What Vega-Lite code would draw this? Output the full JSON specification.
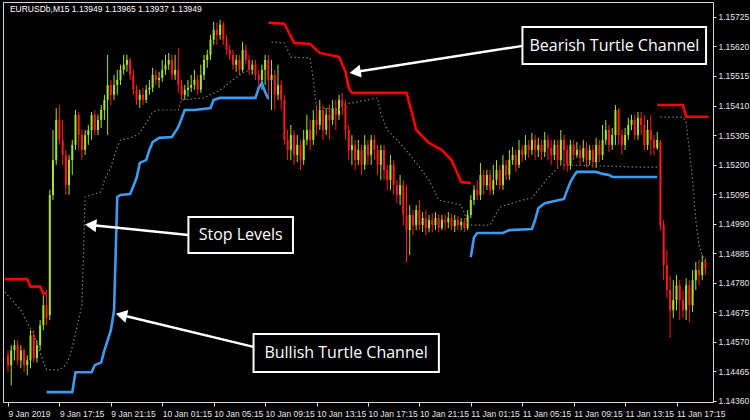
{
"$schema":"https://vega.github.io/schema/vega-lite/v6.json",
"width":710,"height":400,
"autosize":{"type":"none"},
"padding":{"left":3,"top":2,"right":37,"bottom":18},
"background":"#000000",
"config":{"view":{"stroke":"#d8d8d8","strokeWidth":1},"font":"Liberation Sans","axis":{"labelOverlap":false,"labelSeparation":0,"labelFlush":false,"labelBound":false}},
"datasets":{
"candles":[
{"t":"2019-01-09T13:15:00Z","o":1.14522,"h":1.1454,"l":1.14462,"c":1.14487},
{"t":"2019-01-09T13:30:00Z","o":1.14487,"h":1.14558,"l":1.14415,"c":1.1454},
{"t":"2019-01-09T13:45:00Z","o":1.1454,"h":1.14576,"l":1.14504,"c":1.14558},
{"t":"2019-01-09T14:00:00Z","o":1.14558,"h":1.14576,"l":1.14487,"c":1.14504},
{"t":"2019-01-09T14:15:00Z","o":1.14504,"h":1.14558,"l":1.14476,"c":1.1454},
{"t":"2019-01-09T14:30:00Z","o":1.1454,"h":1.14547,"l":1.14462,"c":1.14487},
{"t":"2019-01-09T14:45:00Z","o":1.14487,"h":1.14522,"l":1.14451,"c":1.14504},
{"t":"2019-01-09T15:00:00Z","o":1.14504,"h":1.14611,"l":1.14476,"c":1.14593},
{"t":"2019-01-09T15:15:00Z","o":1.14593,"h":1.14611,"l":1.14497,"c":1.14512},
{"t":"2019-01-09T15:30:00Z","o":1.14512,"h":1.14576,"l":1.14497,"c":1.14558},
{"t":"2019-01-09T15:45:00Z","o":1.14558,"h":1.14647,"l":1.1454,"c":1.14629},
{"t":"2019-01-09T16:00:00Z","o":1.14629,"h":1.14736,"l":1.14611,"c":1.147},
{"t":"2019-01-09T16:15:00Z","o":1.147,"h":1.14754,"l":1.14629,"c":1.14654},
{"t":"2019-01-09T16:30:00Z","o":1.14665,"h":1.1511,"l":1.14647,"c":1.15092},
{"t":"2019-01-09T16:45:00Z","o":1.15092,"h":1.15323,"l":1.15074,"c":1.15216},
{"t":"2019-01-09T17:00:00Z","o":1.15216,"h":1.15401,"l":1.15199,"c":1.15359},
{"t":"2019-01-09T17:15:00Z","o":1.15359,"h":1.15412,"l":1.1527,"c":1.15288},
{"t":"2019-01-09T17:30:00Z","o":1.15288,"h":1.15359,"l":1.15199,"c":1.15234},
{"t":"2019-01-09T17:45:00Z","o":1.15234,"h":1.15252,"l":1.15092,"c":1.15127},
{"t":"2019-01-09T18:00:00Z","o":1.15127,"h":1.15234,"l":1.15092,"c":1.15216},
{"t":"2019-01-09T18:15:00Z","o":1.15216,"h":1.15288,"l":1.15163,"c":1.1527},
{"t":"2019-01-09T18:30:00Z","o":1.1527,"h":1.15394,"l":1.15252,"c":1.15377},
{"t":"2019-01-09T18:45:00Z","o":1.15377,"h":1.15387,"l":1.15252,"c":1.15305},
{"t":"2019-01-09T19:00:00Z","o":1.15305,"h":1.15323,"l":1.15216,"c":1.15252},
{"t":"2019-01-09T19:15:00Z","o":1.15252,"h":1.15323,"l":1.15234,"c":1.15305},
{"t":"2019-01-09T19:30:00Z","o":1.15305,"h":1.15341,"l":1.1527,"c":1.15323},
{"t":"2019-01-09T19:45:00Z","o":1.15323,"h":1.15387,"l":1.15288,"c":1.15377},
{"t":"2019-01-09T20:00:00Z","o":1.15377,"h":1.15394,"l":1.15305,"c":1.15323},
{"t":"2019-01-09T20:15:00Z","o":1.15323,"h":1.15377,"l":1.15305,"c":1.15359},
{"t":"2019-01-09T20:30:00Z","o":1.15359,"h":1.15412,"l":1.1533,"c":1.15394},
{"t":"2019-01-09T20:45:00Z","o":1.15394,"h":1.15448,"l":1.15359,"c":1.1543},
{"t":"2019-01-09T21:00:00Z","o":1.1543,"h":1.1559,"l":1.15305,"c":1.15483},
{"t":"2019-01-09T21:15:00Z","o":1.15483,"h":1.15501,"l":1.15412,"c":1.15448},
{"t":"2019-01-09T21:30:00Z","o":1.15448,"h":1.15519,"l":1.1543,"c":1.15483},
{"t":"2019-01-09T21:45:00Z","o":1.15483,"h":1.15537,"l":1.15448,"c":1.15501},
{"t":"2019-01-09T22:00:00Z","o":1.15501,"h":1.15555,"l":1.15483,"c":1.15537},
{"t":"2019-01-09T22:15:00Z","o":1.15537,"h":1.1559,"l":1.15519,"c":1.15555},
{"t":"2019-01-09T22:30:00Z","o":1.15555,"h":1.1559,"l":1.1553,"c":1.15572},
{"t":"2019-01-09T22:45:00Z","o":1.15572,"h":1.1558,"l":1.15501,"c":1.15519},
{"t":"2019-01-09T23:00:00Z","o":1.15519,"h":1.15537,"l":1.15448,"c":1.15466},
{"t":"2019-01-09T23:15:00Z","o":1.15466,"h":1.15483,"l":1.15412,"c":1.1543},
{"t":"2019-01-09T23:30:00Z","o":1.1543,"h":1.15466,"l":1.15401,"c":1.15448},
{"t":"2019-01-09T23:45:00Z","o":1.15448,"h":1.15473,"l":1.15412,"c":1.1543},
{"t":"2019-01-10T00:00:00Z","o":1.1543,"h":1.15483,"l":1.15419,"c":1.15466},
{"t":"2019-01-10T00:15:00Z","o":1.15466,"h":1.15501,"l":1.15448,"c":1.15473},
{"t":"2019-01-10T00:30:00Z","o":1.15473,"h":1.15544,"l":1.15458,"c":1.15519},
{"t":"2019-01-10T00:45:00Z","o":1.15519,"h":1.15537,"l":1.15483,"c":1.15501},
{"t":"2019-01-10T01:00:00Z","o":1.15501,"h":1.1553,"l":1.15473,"c":1.15508},
{"t":"2019-01-10T01:15:00Z","o":1.15508,"h":1.15572,"l":1.15494,"c":1.15537},
{"t":"2019-01-10T01:30:00Z","o":1.15537,"h":1.1559,"l":1.15519,"c":1.15555},
{"t":"2019-01-10T01:45:00Z","o":1.15555,"h":1.15597,"l":1.15537,"c":1.15572},
{"t":"2019-01-10T02:00:00Z","o":1.15572,"h":1.1559,"l":1.15501,"c":1.15519},
{"t":"2019-01-10T02:15:00Z","o":1.15519,"h":1.1559,"l":1.15501,"c":1.15537},
{"t":"2019-01-10T02:30:00Z","o":1.15537,"h":1.15615,"l":1.15455,"c":1.15483},
{"t":"2019-01-10T02:45:00Z","o":1.15483,"h":1.15501,"l":1.1543,"c":1.15448},
{"t":"2019-01-10T03:00:00Z","o":1.15448,"h":1.15483,"l":1.1543,"c":1.15466},
{"t":"2019-01-10T03:15:00Z","o":1.15466,"h":1.15501,"l":1.15441,"c":1.15473},
{"t":"2019-01-10T03:30:00Z","o":1.15473,"h":1.15519,"l":1.15458,"c":1.15483},
{"t":"2019-01-10T03:45:00Z","o":1.15483,"h":1.15537,"l":1.15466,"c":1.15501},
{"t":"2019-01-10T04:00:00Z","o":1.15501,"h":1.15519,"l":1.15448,"c":1.15466},
{"t":"2019-01-10T04:15:00Z","o":1.15466,"h":1.15555,"l":1.15455,"c":1.15519},
{"t":"2019-01-10T04:30:00Z","o":1.15519,"h":1.1559,"l":1.15501,"c":1.15572},
{"t":"2019-01-10T04:45:00Z","o":1.15572,"h":1.15608,"l":1.15544,"c":1.1559},
{"t":"2019-01-10T05:00:00Z","o":1.1559,"h":1.15661,"l":1.15572,"c":1.15644},
{"t":"2019-01-10T05:15:00Z","o":1.15644,"h":1.15708,"l":1.15626,"c":1.15679},
{"t":"2019-01-10T05:30:00Z","o":1.15679,"h":1.15704,"l":1.15626,"c":1.15661},
{"t":"2019-01-10T05:45:00Z","o":1.15661,"h":1.15715,"l":1.15644,"c":1.15697},
{"t":"2019-01-10T06:00:00Z","o":1.15697,"h":1.15708,"l":1.15626,"c":1.15644},
{"t":"2019-01-10T06:15:00Z","o":1.15644,"h":1.15661,"l":1.1559,"c":1.15608},
{"t":"2019-01-10T06:30:00Z","o":1.15608,"h":1.15626,"l":1.15572,"c":1.1559},
{"t":"2019-01-10T06:45:00Z","o":1.1559,"h":1.15608,"l":1.15537,"c":1.15555},
{"t":"2019-01-10T07:00:00Z","o":1.15555,"h":1.1559,"l":1.1553,"c":1.15572},
{"t":"2019-01-10T07:15:00Z","o":1.15572,"h":1.1559,"l":1.15519,"c":1.15537},
{"t":"2019-01-10T07:30:00Z","o":1.15537,"h":1.15636,"l":1.1553,"c":1.15608},
{"t":"2019-01-10T07:45:00Z","o":1.15608,"h":1.15626,"l":1.15555,"c":1.15572},
{"t":"2019-01-10T08:00:00Z","o":1.15572,"h":1.1559,"l":1.15519,"c":1.15537},
{"t":"2019-01-10T08:15:00Z","o":1.15537,"h":1.15572,"l":1.15519,"c":1.15555},
{"t":"2019-01-10T08:30:00Z","o":1.15555,"h":1.15572,"l":1.15501,"c":1.15519},
{"t":"2019-01-10T08:45:00Z","o":1.15519,"h":1.15537,"l":1.15483,"c":1.15501},
{"t":"2019-01-10T09:00:00Z","o":1.15501,"h":1.15555,"l":1.15466,"c":1.15537},
{"t":"2019-01-10T09:15:00Z","o":1.15537,"h":1.1559,"l":1.15483,"c":1.15572},
{"t":"2019-01-10T09:30:00Z","o":1.15572,"h":1.1559,"l":1.1543,"c":1.15501},
{"t":"2019-01-10T09:45:00Z","o":1.15501,"h":1.15572,"l":1.15394,"c":1.15519},
{"t":"2019-01-10T10:00:00Z","o":1.15519,"h":1.15537,"l":1.15394,"c":1.15448},
{"t":"2019-01-10T10:15:00Z","o":1.15448,"h":1.15555,"l":1.1543,"c":1.15483},
{"t":"2019-01-10T10:30:00Z","o":1.15483,"h":1.15501,"l":1.15394,"c":1.1543},
{"t":"2019-01-10T10:45:00Z","o":1.1543,"h":1.15448,"l":1.1527,"c":1.15288},
{"t":"2019-01-10T11:00:00Z","o":1.15288,"h":1.15323,"l":1.15216,"c":1.15252},
{"t":"2019-01-10T11:15:00Z","o":1.15252,"h":1.15341,"l":1.15216,"c":1.15305},
{"t":"2019-01-10T11:30:00Z","o":1.15305,"h":1.15323,"l":1.15199,"c":1.15234},
{"t":"2019-01-10T11:45:00Z","o":1.15234,"h":1.15305,"l":1.15209,"c":1.1527},
{"t":"2019-01-10T12:00:00Z","o":1.1527,"h":1.15288,"l":1.15181,"c":1.15216},
{"t":"2019-01-10T12:15:00Z","o":1.15216,"h":1.15323,"l":1.15199,"c":1.15288},
{"t":"2019-01-10T12:30:00Z","o":1.15288,"h":1.15377,"l":1.1527,"c":1.15323},
{"t":"2019-01-10T12:45:00Z","o":1.15323,"h":1.15359,"l":1.15252,"c":1.15288},
{"t":"2019-01-10T13:00:00Z","o":1.15288,"h":1.15394,"l":1.1527,"c":1.15359},
{"t":"2019-01-10T13:15:00Z","o":1.15359,"h":1.15412,"l":1.15305,"c":1.15341},
{"t":"2019-01-10T13:30:00Z","o":1.15341,"h":1.1543,"l":1.15323,"c":1.15394},
{"t":"2019-01-10T13:45:00Z","o":1.15394,"h":1.15412,"l":1.15288,"c":1.15323},
{"t":"2019-01-10T14:00:00Z","o":1.15323,"h":1.15401,"l":1.15305,"c":1.15377},
{"t":"2019-01-10T14:15:00Z","o":1.15377,"h":1.15412,"l":1.15288,"c":1.15359},
{"t":"2019-01-10T14:30:00Z","o":1.15359,"h":1.1543,"l":1.15341,"c":1.15401},
{"t":"2019-01-10T14:45:00Z","o":1.15401,"h":1.1543,"l":1.15323,"c":1.15377},
{"t":"2019-01-10T15:00:00Z","o":1.15377,"h":1.15448,"l":1.15359,"c":1.1543},
{"t":"2019-01-10T15:15:00Z","o":1.1543,"h":1.15455,"l":1.15377,"c":1.15412},
{"t":"2019-01-10T15:30:00Z","o":1.15412,"h":1.1543,"l":1.15288,"c":1.15323},
{"t":"2019-01-10T15:45:00Z","o":1.15323,"h":1.15341,"l":1.15216,"c":1.15252},
{"t":"2019-01-10T16:00:00Z","o":1.15252,"h":1.15305,"l":1.15199,"c":1.1527},
{"t":"2019-01-10T16:15:00Z","o":1.1527,"h":1.15288,"l":1.15181,"c":1.15216},
{"t":"2019-01-10T16:30:00Z","o":1.15216,"h":1.15288,"l":1.15199,"c":1.15252},
{"t":"2019-01-10T16:45:00Z","o":1.15252,"h":1.1527,"l":1.15163,"c":1.15199},
{"t":"2019-01-10T17:00:00Z","o":1.15199,"h":1.15305,"l":1.15181,"c":1.1527},
{"t":"2019-01-10T17:15:00Z","o":1.1527,"h":1.15288,"l":1.15199,"c":1.15234},
{"t":"2019-01-10T17:30:00Z","o":1.15234,"h":1.15305,"l":1.15199,"c":1.15288},
{"t":"2019-01-10T17:45:00Z","o":1.15288,"h":1.15305,"l":1.15216,"c":1.15252},
{"t":"2019-01-10T18:00:00Z","o":1.15252,"h":1.1527,"l":1.15163,"c":1.15199},
{"t":"2019-01-10T18:15:00Z","o":1.15199,"h":1.1527,"l":1.15145,"c":1.15252},
{"t":"2019-01-10T18:30:00Z","o":1.15252,"h":1.1527,"l":1.15145,"c":1.15181},
{"t":"2019-01-10T18:45:00Z","o":1.15181,"h":1.15199,"l":1.1511,"c":1.15145},
{"t":"2019-01-10T19:00:00Z","o":1.15145,"h":1.15234,"l":1.1511,"c":1.15199},
{"t":"2019-01-10T19:15:00Z","o":1.15199,"h":1.15216,"l":1.15092,"c":1.15127},
{"t":"2019-01-10T19:30:00Z","o":1.15127,"h":1.15145,"l":1.15063,"c":1.15092},
{"t":"2019-01-10T19:45:00Z","o":1.15092,"h":1.15163,"l":1.15056,"c":1.15127},
{"t":"2019-01-10T20:00:00Z","o":1.15127,"h":1.15145,"l":1.14985,"c":1.15021},
{"t":"2019-01-10T20:15:00Z","o":1.15021,"h":1.15127,"l":1.14853,"c":1.14967},
{"t":"2019-01-10T20:30:00Z","o":1.14967,"h":1.15056,"l":1.14878,"c":1.15021},
{"t":"2019-01-10T20:45:00Z","o":1.15021,"h":1.15038,"l":1.14949,"c":1.14985},
{"t":"2019-01-10T21:00:00Z","o":1.14985,"h":1.15056,"l":1.14967,"c":1.15038},
{"t":"2019-01-10T21:15:00Z","o":1.15038,"h":1.15074,"l":1.14967,"c":1.14985},
{"t":"2019-01-10T21:30:00Z","o":1.14985,"h":1.15031,"l":1.1496,"c":1.1501},
{"t":"2019-01-10T21:45:00Z","o":1.1501,"h":1.15038,"l":1.14949,"c":1.14974},
{"t":"2019-01-10T22:00:00Z","o":1.14974,"h":1.15021,"l":1.1496,"c":1.15003},
{"t":"2019-01-10T22:15:00Z","o":1.15003,"h":1.15028,"l":1.1496,"c":1.14985},
{"t":"2019-01-10T22:30:00Z","o":1.14985,"h":1.15031,"l":1.14967,"c":1.1501},
{"t":"2019-01-10T22:45:00Z","o":1.1501,"h":1.15024,"l":1.1496,"c":1.14974},
{"t":"2019-01-10T23:00:00Z","o":1.14974,"h":1.15021,"l":1.14967,"c":1.15003},
{"t":"2019-01-10T23:15:00Z","o":1.15003,"h":1.15024,"l":1.14967,"c":1.14996},
{"t":"2019-01-10T23:30:00Z","o":1.14996,"h":1.15031,"l":1.14974,"c":1.1501},
{"t":"2019-01-10T23:45:00Z","o":1.1501,"h":1.15024,"l":1.14967,"c":1.14981},
{"t":"2019-01-11T00:00:00Z","o":1.14981,"h":1.15021,"l":1.1496,"c":1.15003},
{"t":"2019-01-11T00:15:00Z","o":1.15003,"h":1.15017,"l":1.14967,"c":1.14985},
{"t":"2019-01-11T00:30:00Z","o":1.14985,"h":1.1501,"l":1.14967,"c":1.14996},
{"t":"2019-01-11T00:45:00Z","o":1.14996,"h":1.1501,"l":1.1496,"c":1.14974},
{"t":"2019-01-11T01:00:00Z","o":1.14974,"h":1.15038,"l":1.14967,"c":1.15021},
{"t":"2019-01-11T01:15:00Z","o":1.15021,"h":1.15092,"l":1.1501,"c":1.15074},
{"t":"2019-01-11T01:30:00Z","o":1.15074,"h":1.15127,"l":1.15056,"c":1.1511},
{"t":"2019-01-11T01:45:00Z","o":1.1511,"h":1.15145,"l":1.15074,"c":1.15092},
{"t":"2019-01-11T02:00:00Z","o":1.15092,"h":1.15206,"l":1.15074,"c":1.15163},
{"t":"2019-01-11T02:15:00Z","o":1.15163,"h":1.15181,"l":1.15092,"c":1.15127},
{"t":"2019-01-11T02:30:00Z","o":1.15127,"h":1.15181,"l":1.1511,"c":1.15163},
{"t":"2019-01-11T02:45:00Z","o":1.15163,"h":1.15181,"l":1.15092,"c":1.1511},
{"t":"2019-01-11T03:00:00Z","o":1.1511,"h":1.15199,"l":1.15092,"c":1.15145},
{"t":"2019-01-11T03:15:00Z","o":1.15145,"h":1.15216,"l":1.15127,"c":1.15181},
{"t":"2019-01-11T03:30:00Z","o":1.15181,"h":1.15199,"l":1.1511,"c":1.15127},
{"t":"2019-01-11T03:45:00Z","o":1.15127,"h":1.15234,"l":1.1511,"c":1.15199},
{"t":"2019-01-11T04:00:00Z","o":1.15199,"h":1.15216,"l":1.15145,"c":1.15163},
{"t":"2019-01-11T04:15:00Z","o":1.15163,"h":1.15252,"l":1.15145,"c":1.15216},
{"t":"2019-01-11T04:30:00Z","o":1.15216,"h":1.15263,"l":1.15199,"c":1.15234},
{"t":"2019-01-11T04:45:00Z","o":1.15234,"h":1.15252,"l":1.15174,"c":1.15199},
{"t":"2019-01-11T05:00:00Z","o":1.15199,"h":1.15288,"l":1.15188,"c":1.15252},
{"t":"2019-01-11T05:15:00Z","o":1.15252,"h":1.1527,"l":1.15209,"c":1.15234},
{"t":"2019-01-11T05:30:00Z","o":1.15234,"h":1.15305,"l":1.15216,"c":1.1527},
{"t":"2019-01-11T05:45:00Z","o":1.1527,"h":1.15288,"l":1.15224,"c":1.15252},
{"t":"2019-01-11T06:00:00Z","o":1.15252,"h":1.15313,"l":1.15234,"c":1.15288},
{"t":"2019-01-11T06:15:00Z","o":1.15288,"h":1.15305,"l":1.15216,"c":1.15252},
{"t":"2019-01-11T06:30:00Z","o":1.15252,"h":1.15295,"l":1.15227,"c":1.1527},
{"t":"2019-01-11T06:45:00Z","o":1.1527,"h":1.15288,"l":1.15216,"c":1.15245},
{"t":"2019-01-11T07:00:00Z","o":1.15245,"h":1.15316,"l":1.15227,"c":1.15288},
{"t":"2019-01-11T07:15:00Z","o":1.15288,"h":1.15305,"l":1.15216,"c":1.15259},
{"t":"2019-01-11T07:30:00Z","o":1.15259,"h":1.15288,"l":1.15199,"c":1.15234},
{"t":"2019-01-11T07:45:00Z","o":1.15234,"h":1.15288,"l":1.15216,"c":1.1527},
{"t":"2019-01-11T08:00:00Z","o":1.1527,"h":1.15288,"l":1.15188,"c":1.15216},
{"t":"2019-01-11T08:15:00Z","o":1.15216,"h":1.15323,"l":1.15199,"c":1.15288},
{"t":"2019-01-11T08:30:00Z","o":1.15288,"h":1.15305,"l":1.15181,"c":1.15252},
{"t":"2019-01-11T08:45:00Z","o":1.15252,"h":1.1527,"l":1.15174,"c":1.15199},
{"t":"2019-01-11T09:00:00Z","o":1.15199,"h":1.15288,"l":1.15181,"c":1.1527},
{"t":"2019-01-11T09:15:00Z","o":1.1527,"h":1.15288,"l":1.15216,"c":1.15234},
{"t":"2019-01-11T09:30:00Z","o":1.15234,"h":1.1528,"l":1.15224,"c":1.15252},
{"t":"2019-01-11T09:45:00Z","o":1.15252,"h":1.1527,"l":1.15199,"c":1.15224},
{"t":"2019-01-11T10:00:00Z","o":1.15224,"h":1.15288,"l":1.15209,"c":1.15259},
{"t":"2019-01-11T10:15:00Z","o":1.15259,"h":1.1528,"l":1.15191,"c":1.15216},
{"t":"2019-01-11T10:30:00Z","o":1.15216,"h":1.1527,"l":1.15199,"c":1.15252},
{"t":"2019-01-11T10:45:00Z","o":1.15252,"h":1.1527,"l":1.15188,"c":1.15209},
{"t":"2019-01-11T11:00:00Z","o":1.15209,"h":1.15295,"l":1.15188,"c":1.1527},
{"t":"2019-01-11T11:15:00Z","o":1.1527,"h":1.15288,"l":1.15209,"c":1.15234},
{"t":"2019-01-11T11:30:00Z","o":1.15234,"h":1.15341,"l":1.15216,"c":1.15288},
{"t":"2019-01-11T11:45:00Z","o":1.15288,"h":1.15359,"l":1.1527,"c":1.15323},
{"t":"2019-01-11T12:00:00Z","o":1.15323,"h":1.15341,"l":1.15245,"c":1.1527},
{"t":"2019-01-11T12:15:00Z","o":1.1527,"h":1.1533,"l":1.15252,"c":1.15305},
{"t":"2019-01-11T12:30:00Z","o":1.15305,"h":1.15412,"l":1.1527,"c":1.15394},
{"t":"2019-01-11T12:45:00Z","o":1.15394,"h":1.15401,"l":1.1527,"c":1.15305},
{"t":"2019-01-11T13:00:00Z","o":1.15305,"h":1.15323,"l":1.15234,"c":1.1527},
{"t":"2019-01-11T13:15:00Z","o":1.1527,"h":1.1533,"l":1.15252,"c":1.15305},
{"t":"2019-01-11T13:30:00Z","o":1.15305,"h":1.15366,"l":1.15288,"c":1.15341},
{"t":"2019-01-11T13:45:00Z","o":1.15341,"h":1.15377,"l":1.15323,"c":1.15359},
{"t":"2019-01-11T14:00:00Z","o":1.15359,"h":1.15377,"l":1.15288,"c":1.15305},
{"t":"2019-01-11T14:15:00Z","o":1.15305,"h":1.15387,"l":1.15288,"c":1.15366},
{"t":"2019-01-11T14:30:00Z","o":1.15366,"h":1.15387,"l":1.15305,"c":1.15341},
{"t":"2019-01-11T14:45:00Z","o":1.15341,"h":1.15377,"l":1.15252,"c":1.1527},
{"t":"2019-01-11T15:00:00Z","o":1.1527,"h":1.15359,"l":1.15252,"c":1.15323},
{"t":"2019-01-11T15:15:00Z","o":1.15323,"h":1.15377,"l":1.15234,"c":1.15288},
{"t":"2019-01-11T15:30:00Z","o":1.15288,"h":1.15305,"l":1.15234,"c":1.15259},
{"t":"2019-01-11T15:45:00Z","o":1.15259,"h":1.15316,"l":1.15252,"c":1.15288},
{"t":"2019-01-11T16:00:00Z","o":1.1528,"h":1.15288,"l":1.14967,"c":1.14985},
{"t":"2019-01-11T16:15:00Z","o":1.14985,"h":1.15003,"l":1.14789,"c":1.14843},
{"t":"2019-01-11T16:30:00Z","o":1.14843,"h":1.14896,"l":1.14725,"c":1.14754},
{"t":"2019-01-11T16:45:00Z","o":1.14754,"h":1.14807,"l":1.14583,"c":1.14682},
{"t":"2019-01-11T17:00:00Z","o":1.14682,"h":1.14789,"l":1.14654,"c":1.14718},
{"t":"2019-01-11T17:15:00Z","o":1.14718,"h":1.14807,"l":1.14682,"c":1.14771},
{"t":"2019-01-11T17:30:00Z","o":1.14771,"h":1.14789,"l":1.14647,"c":1.14718},
{"t":"2019-01-11T17:45:00Z","o":1.14718,"h":1.14754,"l":1.14654,"c":1.14682},
{"t":"2019-01-11T18:00:00Z","o":1.14682,"h":1.14796,"l":1.14647,"c":1.14771},
{"t":"2019-01-11T18:15:00Z","o":1.14771,"h":1.14789,"l":1.1464,"c":1.147},
{"t":"2019-01-11T18:30:00Z","o":1.147,"h":1.14825,"l":1.14675,"c":1.14789},
{"t":"2019-01-11T18:45:00Z","o":1.14789,"h":1.14853,"l":1.14754,"c":1.14825},
{"t":"2019-01-11T19:00:00Z","o":1.14825,"h":1.1486,"l":1.14771,"c":1.14807},
{"t":"2019-01-11T19:15:00Z","o":1.14807,"h":1.14878,"l":1.14789,"c":1.14853},
{"t":"2019-01-11T19:30:00Z","o":1.14853,"h":1.14867,"l":1.14807,"c":1.14832}
],
"lines":[
{"s":"r","g":"r1","t":"2019-01-09T13:00:00Z","p":1.14793},
{"s":"r","g":"r1","t":"2019-01-09T14:45:00Z","p":1.14793},
{"s":"r","g":"r1","t":"2019-01-09T15:00:00Z","p":1.14766},
{"s":"r","g":"r1","t":"2019-01-09T15:45:00Z","p":1.14766},
{"s":"r","g":"r1","t":"2019-01-09T16:00:00Z","p":1.14742},
{"s":"r","g":"r1","t":"2019-01-09T16:15:00Z","p":1.14742},
{"s":"r","g":"r2","t":"2019-01-10T09:30:00Z","p":1.15704},
{"s":"r","g":"r2","t":"2019-01-10T10:45:00Z","p":1.15701},
{"s":"r","g":"r2","t":"2019-01-10T11:30:00Z","p":1.15633},
{"s":"r","g":"r2","t":"2019-01-10T12:45:00Z","p":1.15629},
{"s":"r","g":"r2","t":"2019-01-10T13:30:00Z","p":1.15597},
{"s":"r","g":"r2","t":"2019-01-10T15:00:00Z","p":1.15583},
{"s":"r","g":"r2","t":"2019-01-10T15:30:00Z","p":1.1553},
{"s":"r","g":"r2","t":"2019-01-10T15:45:00Z","p":1.15473},
{"s":"r","g":"r2","t":"2019-01-10T16:00:00Z","p":1.15455},
{"s":"r","g":"r2","t":"2019-01-10T20:15:00Z","p":1.15455},
{"s":"r","g":"r2","t":"2019-01-10T20:45:00Z","p":1.1537},
{"s":"r","g":"r2","t":"2019-01-10T21:00:00Z","p":1.15323},
{"s":"r","g":"r2","t":"2019-01-10T22:00:00Z","p":1.15277},
{"s":"r","g":"r2","t":"2019-01-10T23:00:00Z","p":1.15252},
{"s":"r","g":"r2","t":"2019-01-10T23:45:00Z","p":1.15216},
{"s":"r","g":"r2","t":"2019-01-11T00:30:00Z","p":1.15138},
{"s":"r","g":"r2","t":"2019-01-11T01:15:00Z","p":1.15134},
{"s":"r","g":"r3","t":"2019-01-11T15:45:00Z","p":1.15412},
{"s":"r","g":"r3","t":"2019-01-11T17:45:00Z","p":1.15412},
{"s":"r","g":"r3","t":"2019-01-11T18:00:00Z","p":1.1537},
{"s":"r","g":"r3","t":"2019-01-11T19:45:00Z","p":1.1537},
{"s":"b","g":"b1","t":"2019-01-09T16:15:00Z","p":1.14391},
{"s":"b","g":"b1","t":"2019-01-09T18:15:00Z","p":1.14391},
{"s":"b","g":"b1","t":"2019-01-09T18:30:00Z","p":1.14462},
{"s":"b","g":"b1","t":"2019-01-09T19:45:00Z","p":1.14462},
{"s":"b","g":"b1","t":"2019-01-09T20:00:00Z","p":1.14487},
{"s":"b","g":"b1","t":"2019-01-09T20:30:00Z","p":1.14497},
{"s":"b","g":"b1","t":"2019-01-09T20:45:00Z","p":1.1454},
{"s":"b","g":"b1","t":"2019-01-09T21:15:00Z","p":1.14611},
{"s":"b","g":"b1","t":"2019-01-09T21:30:00Z","p":1.14682},
{"s":"b","g":"b1","t":"2019-01-09T21:45:00Z","p":1.15085},
{"s":"b","g":"b1","t":"2019-01-09T22:00:00Z","p":1.15092},
{"s":"b","g":"b1","t":"2019-01-09T22:45:00Z","p":1.15095},
{"s":"b","g":"b1","t":"2019-01-09T23:15:00Z","p":1.15152},
{"s":"b","g":"b1","t":"2019-01-09T23:30:00Z","p":1.15206},
{"s":"b","g":"b1","t":"2019-01-10T00:00:00Z","p":1.15216},
{"s":"b","g":"b1","t":"2019-01-10T00:15:00Z","p":1.15252},
{"s":"b","g":"b1","t":"2019-01-10T00:30:00Z","p":1.1528},
{"s":"b","g":"b1","t":"2019-01-10T01:00:00Z","p":1.15295},
{"s":"b","g":"b1","t":"2019-01-10T02:00:00Z","p":1.15298},
{"s":"b","g":"b1","t":"2019-01-10T02:30:00Z","p":1.15334},
{"s":"b","g":"b1","t":"2019-01-10T03:00:00Z","p":1.15394},
{"s":"b","g":"b1","t":"2019-01-10T03:45:00Z","p":1.15394},
{"s":"b","g":"b1","t":"2019-01-10T05:00:00Z","p":1.15401},
{"s":"b","g":"b1","t":"2019-01-10T05:15:00Z","p":1.1543},
{"s":"b","g":"b1","t":"2019-01-10T05:45:00Z","p":1.15437},
{"s":"b","g":"b1","t":"2019-01-10T08:30:00Z","p":1.15437},
{"s":"b","g":"b1","t":"2019-01-10T08:45:00Z","p":1.15473},
{"s":"b","g":"b1","t":"2019-01-10T09:00:00Z","p":1.1549},
{"s":"b","g":"b1","t":"2019-01-10T09:15:00Z","p":1.15458},
{"s":"b","g":"b1","t":"2019-01-10T09:30:00Z","p":1.15434},
{"s":"b","g":"b2","t":"2019-01-11T01:15:00Z","p":1.14871},
{"s":"b","g":"b2","t":"2019-01-11T01:30:00Z","p":1.14942},
{"s":"b","g":"b2","t":"2019-01-11T01:45:00Z","p":1.14957},
{"s":"b","g":"b2","t":"2019-01-11T03:45:00Z","p":1.14957},
{"s":"b","g":"b2","t":"2019-01-11T04:15:00Z","p":1.14967},
{"s":"b","g":"b2","t":"2019-01-11T06:00:00Z","p":1.14971},
{"s":"b","g":"b2","t":"2019-01-11T06:15:00Z","p":1.15003},
{"s":"b","g":"b2","t":"2019-01-11T06:30:00Z","p":1.15045},
{"s":"b","g":"b2","t":"2019-01-11T07:00:00Z","p":1.15063},
{"s":"b","g":"b2","t":"2019-01-11T08:30:00Z","p":1.15078},
{"s":"b","g":"b2","t":"2019-01-11T08:45:00Z","p":1.1511},
{"s":"b","g":"b2","t":"2019-01-11T09:00:00Z","p":1.15138},
{"s":"b","g":"b2","t":"2019-01-11T09:15:00Z","p":1.15159},
{"s":"b","g":"b2","t":"2019-01-11T09:30:00Z","p":1.15174},
{"s":"b","g":"b2","t":"2019-01-11T11:00:00Z","p":1.15174},
{"s":"b","g":"b2","t":"2019-01-11T11:30:00Z","p":1.15167},
{"s":"b","g":"b2","t":"2019-01-11T12:00:00Z","p":1.15163},
{"s":"b","g":"b2","t":"2019-01-11T12:15:00Z","p":1.15156},
{"s":"b","g":"b2","t":"2019-01-11T15:45:00Z","p":1.15156},
{"s":"d","g":"d1","t":"2019-01-09T13:00:00Z","p":1.14747},
{"s":"d","g":"d1","t":"2019-01-09T14:15:00Z","p":1.14683},
{"s":"d","g":"d1","t":"2019-01-09T15:15:00Z","p":1.14594},
{"s":"d","g":"d1","t":"2019-01-09T16:15:00Z","p":1.1447},
{"s":"d","g":"d1","t":"2019-01-09T17:15:00Z","p":1.1447},
{"s":"d","g":"d1","t":"2019-01-09T17:45:00Z","p":1.14488},
{"s":"d","g":"d1","t":"2019-01-09T18:00:00Z","p":1.14512},
{"s":"d","g":"d1","t":"2019-01-09T18:15:00Z","p":1.14552},
{"s":"d","g":"d1","t":"2019-01-09T18:45:00Z","p":1.14648},
{"s":"d","g":"d1","t":"2019-01-09T19:00:00Z","p":1.14701},
{"s":"d","g":"d1","t":"2019-01-09T19:15:00Z","p":1.15085},
{"s":"d","g":"d1","t":"2019-01-09T20:30:00Z","p":1.15103},
{"s":"d","g":"d1","t":"2019-01-09T20:45:00Z","p":1.15145},
{"s":"d","g":"d1","t":"2019-01-09T21:15:00Z","p":1.15191},
{"s":"d","g":"d1","t":"2019-01-09T21:45:00Z","p":1.15263},
{"s":"d","g":"d1","t":"2019-01-09T22:00:00Z","p":1.15287},
{"s":"d","g":"d1","t":"2019-01-09T23:00:00Z","p":1.15298},
{"s":"d","g":"d1","t":"2019-01-09T23:30:00Z","p":1.15312},
{"s":"d","g":"d1","t":"2019-01-10T00:00:00Z","p":1.15348},
{"s":"d","g":"d1","t":"2019-01-10T00:30:00Z","p":1.15387},
{"s":"d","g":"d1","t":"2019-01-10T01:00:00Z","p":1.15394},
{"s":"d","g":"d1","t":"2019-01-10T02:30:00Z","p":1.15394},
{"s":"d","g":"d1","t":"2019-01-10T02:45:00Z","p":1.1543},
{"s":"d","g":"d1","t":"2019-01-10T04:30:00Z","p":1.15437},
{"s":"d","g":"d1","t":"2019-01-10T05:45:00Z","p":1.15465},
{"s":"d","g":"d1","t":"2019-01-10T06:45:00Z","p":1.15501},
{"s":"d","g":"d1","t":"2019-01-10T07:30:00Z","p":1.15526},
{"s":"d","g":"d1","t":"2019-01-10T08:00:00Z","p":1.15536},
{"s":"d","g":"d2","t":"2019-01-10T09:45:00Z","p":1.15636},
{"s":"d","g":"d2","t":"2019-01-10T10:45:00Z","p":1.15632},
{"s":"d","g":"d2","t":"2019-01-10T11:15:00Z","p":1.15582},
{"s":"d","g":"d2","t":"2019-01-10T12:45:00Z","p":1.15579},
{"s":"d","g":"d2","t":"2019-01-10T13:00:00Z","p":1.15501},
{"s":"d","g":"d2","t":"2019-01-10T13:15:00Z","p":1.15405},
{"s":"d","g":"d2","t":"2019-01-10T15:00:00Z","p":1.15394},
{"s":"d","g":"d2","t":"2019-01-10T15:15:00Z","p":1.15412},
{"s":"d","g":"d2","t":"2019-01-10T18:00:00Z","p":1.15437},
{"s":"d","g":"d2","t":"2019-01-10T18:15:00Z","p":1.15383},
{"s":"d","g":"d2","t":"2019-01-10T18:45:00Z","p":1.15323},
{"s":"d","g":"d2","t":"2019-01-10T20:00:00Z","p":1.15263},
{"s":"d","g":"d2","t":"2019-01-10T21:00:00Z","p":1.15206},
{"s":"d","g":"d2","t":"2019-01-10T22:00:00Z","p":1.15145},
{"s":"d","g":"d2","t":"2019-01-10T22:45:00Z","p":1.15074},
{"s":"d","g":"d2","t":"2019-01-11T00:30:00Z","p":1.15056},
{"s":"d","g":"d2","t":"2019-01-11T00:45:00Z","p":1.15028},
{"s":"d","g":"d2","t":"2019-01-11T01:00:00Z","p":1.14992},
{"s":"d","g":"d3","t":"2019-01-11T01:15:00Z","p":1.14985},
{"s":"d","g":"d3","t":"2019-01-11T02:45:00Z","p":1.14985},
{"s":"d","g":"d3","t":"2019-01-11T03:15:00Z","p":1.15028},
{"s":"d","g":"d3","t":"2019-01-11T03:30:00Z","p":1.15049},
{"s":"d","g":"d3","t":"2019-01-11T05:15:00Z","p":1.15074},
{"s":"d","g":"d3","t":"2019-01-11T06:00:00Z","p":1.15081},
{"s":"d","g":"d3","t":"2019-01-11T06:30:00Z","p":1.1511},
{"s":"d","g":"d3","t":"2019-01-11T07:15:00Z","p":1.15152},
{"s":"d","g":"d3","t":"2019-01-11T08:15:00Z","p":1.15199},
{"s":"d","g":"d3","t":"2019-01-11T14:30:00Z","p":1.15191},
{"s":"d","g":"d3","t":"2019-01-11T15:45:00Z","p":1.15191},
{"s":"d","g":"d4","t":"2019-01-11T16:00:00Z","p":1.15369},
{"s":"d","g":"d4","t":"2019-01-11T17:45:00Z","p":1.15369},
{"s":"d","g":"d4","t":"2019-01-11T18:00:00Z","p":1.15348},
{"s":"d","g":"d4","t":"2019-01-11T18:15:00Z","p":1.15252},
{"s":"d","g":"d4","t":"2019-01-11T18:30:00Z","p":1.15145},
{"s":"d","g":"d4","t":"2019-01-11T18:45:00Z","p":1.15003},
{"s":"d","g":"d4","t":"2019-01-11T19:00:00Z","p":1.14914},
{"s":"d","g":"d4","t":"2019-01-11T19:15:00Z","p":1.14879},
{"s":"d","g":"d4","t":"2019-01-11T19:30:00Z","p":1.14854}
],
"boxes":[
{"t1":"2019-01-11T05:16:00Z","t2":"2019-01-11T19:33:00Z","p1":1.15689,"p2":1.15558},
{"t1":"2019-01-10T03:17:00Z","t2":"2019-01-10T11:25:00Z","p1":1.15014,"p2":1.14886},
{"t1":"2019-01-10T08:21:00Z","t2":"2019-01-10T22:46:00Z","p1":1.14598,"p2":1.14463}
],
"labels":[
{"t":"2019-01-11T12:25:00Z","p":1.15622,"text":"Bearish Turtle Channel"},
{"t":"2019-01-10T07:21:00Z","p":1.1495,"text":"Stop Levels"},
{"t":"2019-01-10T15:33:00Z","p":1.1453,"text":"Bullish Turtle Channel"}
],
"arrows":[
{"t1":"2019-01-11T05:16:00Z","p1":1.15622,"t2":"2019-01-10T16:15:00Z","p2":1.15529,"a":261},
{"t1":"2019-01-10T03:17:00Z","p1":1.1495,"t2":"2019-01-09T19:41:00Z","p2":1.14985,"a":276},
{"t1":"2019-01-10T08:21:00Z","p1":1.14552,"t2":"2019-01-09T22:04:00Z","p2":1.14665,"a":283}
],
"header":[
{"t":"2019-01-09T13:24:00Z","p":1.15753,"text":"EURUSDb,M15  1.13949 1.13965 1.13937 1.13949"}
]
},
"layer":[
{"data":{"name":"candles"},
 "mark":{"type":"rule","strokeWidth":1,"clip":true},
 "encoding":{
  "x":{"field":"t","type":"temporal","title":null,
   "scale":{"type":"utc","domain":[1547039700000,1547235720000]},
   "axis":{"orient":"bottom","tickCount":30,"values":[1547039700000,1547054100000,1547068500000,1547082900000,1547097300000,1547111700000,1547126100000,1547140500000,1547154900000,1547169300000,1547183700000,1547198100000,1547212500000,1547226900000],
    "labelExpr":"datum.value < 1547040000000 ? '9 Jan 2019' : utcFormat(datum.value, '%-d %b %H:%M')",
    "labelAlign":"left","labelBaseline":"top","labelPadding":3,"labelColor":"#e6e6e6","labelFont":"Liberation Sans","labelFontSize":8.5,
    "labelOverlap":false,"labelBound":false,"labelFlush":false,"domain":false,"grid":false,"ticks":true,"tickColor":"#e6e6e6","tickSize":4}},
  "y":{"field":"l","type":"quantitative","title":null,
   "scale":{"domain":[1.14356,1.15778],"zero":false,"nice":false},
   "axis":{"orient":"right","tickCount":30,"values":[1.1436,1.14465,1.1457,1.14675,1.1478,1.14885,1.1499,1.15095,1.152,1.15305,1.1541,1.15515,1.1562,1.15725],
    "format":".5f","labelColor":"#e6e6e6","labelFont":"Liberation Sans","labelFontSize":8.5,"labelPadding":2,"labelOverlap":false,"labelSeparation":0,"labelBound":false,"labelFlush":false,
    "domain":false,"grid":false,"tickColor":"#e6e6e6","tickSize":3}},
  "y2":{"field":"h"},
  "color":{"condition":{"test":"datum.c >= datum.o","value":"#a4e32b"},"value":"#ff1a1a"}
 }},
{"data":{"name":"candles"},
 "mark":{"type":"bar","width":2,"clip":true},
 "encoding":{
  "x":{"field":"t","type":"temporal","title":null},
  "y":{"field":"o","type":"quantitative","title":null},
  "y2":{"field":"c"},
  "color":{"condition":{"test":"datum.c >= datum.o","value":"#a4e32b"},"value":"#ff1a1a"}
 }},
{"data":{"name":"lines"},
 "transform":[{"filter":"datum.s == 'd'"}],
 "mark":{"type":"line","color":"#7a7a7a","strokeWidth":1.2,"strokeDash":[1.5,2.5],"clip":true},
 "encoding":{
  "x":{"field":"t","type":"temporal","title":null},
  "y":{"field":"p","type":"quantitative","title":null},
  "detail":{"field":"g"}
 }},
{"data":{"name":"lines"},
 "transform":[{"filter":"datum.s == 'b'"}],
 "mark":{"type":"line","color":"#3d9bf0","strokeWidth":2.6,"clip":true},
 "encoding":{
  "x":{"field":"t","type":"temporal","title":null},
  "y":{"field":"p","type":"quantitative","title":null},
  "detail":{"field":"g"}
 }},
{"data":{"name":"lines"},
 "transform":[{"filter":"datum.s == 'r'"}],
 "mark":{"type":"line","color":"#ff0000","strokeWidth":2.6,"clip":true},
 "encoding":{
  "x":{"field":"t","type":"temporal","title":null},
  "y":{"field":"p","type":"quantitative","title":null},
  "detail":{"field":"g"}
 }},
{"data":{"name":"arrows"},
 "mark":{"type":"rule","color":"#ffffff","strokeWidth":2.5},
 "encoding":{
  "x":{"field":"t1","type":"temporal","title":null},
  "x2":{"field":"t2"},
  "y":{"field":"p1","type":"quantitative","title":null},
  "y2":{"field":"p2"}
 }},
{"data":{"name":"arrows"},
 "mark":{"type":"point","shape":"triangle-up","filled":true,"color":"#ffffff","opacity":1,"size":170},
 "encoding":{
  "x":{"field":"t2","type":"temporal","title":null},
  "y":{"field":"p2","type":"quantitative","title":null},
  "angle":{"field":"a","type":"quantitative","scale":null}
 }},
{"data":{"name":"boxes"},
 "mark":{"type":"rect","fill":"#000000","stroke":"#ffffff","strokeWidth":2},
 "encoding":{
  "x":{"field":"t1","type":"temporal","title":null},
  "x2":{"field":"t2"},
  "y":{"field":"p1","type":"quantitative","title":null},
  "y2":{"field":"p2"}
 }},
{"data":{"name":"labels"},
 "mark":{"type":"text","color":"#ffffff","font":"Open Sans","fontSize":16,"align":"center","baseline":"middle"},
 "encoding":{
  "x":{"field":"t","type":"temporal","title":null},
  "y":{"field":"p","type":"quantitative","title":null},
  "text":{"field":"text"}
 }},
{"data":{"name":"header"},
 "mark":{"type":"text","color":"#ffffff","font":"Liberation Sans","fontSize":8.5,"align":"left","baseline":"middle"},
 "encoding":{
  "x":{"field":"t","type":"temporal","title":null},
  "y":{"field":"p","type":"quantitative","title":null},
  "text":{"field":"text"}
 }}
]
}
